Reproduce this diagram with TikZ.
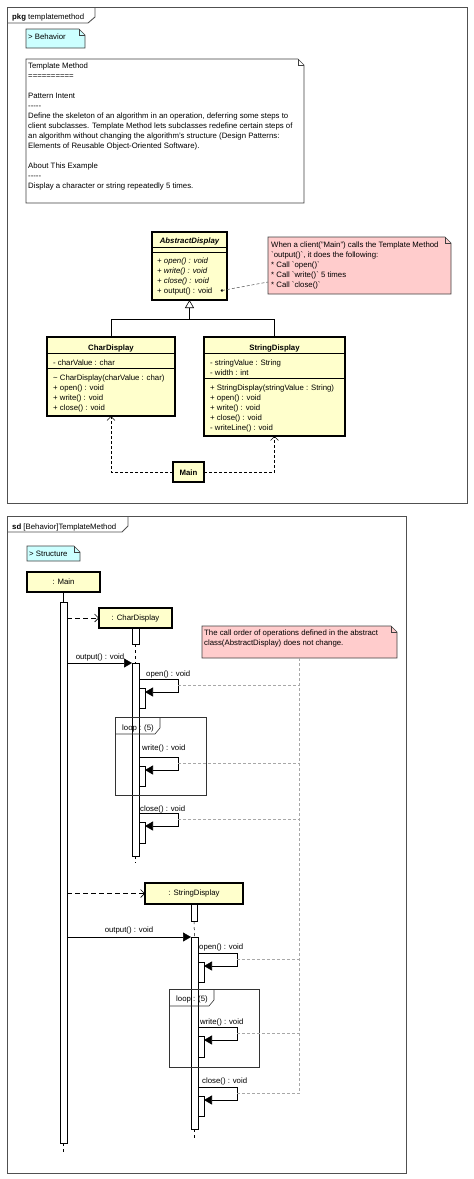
\documentclass[tikz,border=0pt]{standalone}
\usepackage{fontspec}
\setmainfont{Liberation Sans}
\usetikzlibrary{arrows.meta}
\definecolor{clsfill}{HTML}{FFFFCC}
\definecolor{pinkfill}{HTML}{FFCCCC}
\definecolor{cyanfill}{HTML}{CCFFFF}
\definecolor{framecol}{HTML}{505050}
\definecolor{linkgray}{HTML}{A8A8A8}
\newcommand\firstln{\rule{0pt}{8pt}}
\newcommand\fivedash{-{}-{}-{}-{}-}
\newcommand\mkbox[6][]{\node[#1,anchor=north west,inner sep=0pt,outer sep=0pt,minimum width={#5-#3},minimum height={#6-#4}] (#2) at (#3,#4) {};}
\newcommand\mknote[6]{%
  \mkbox{#1}{#2}{#3}{#4}{#5}%
  \filldraw[notestyle,fill=#6] (#1.north west) -- ([xshift=-6pt]#1.north east) -- ([yshift=-6pt]#1.north east) -- (#1.south east) -- (#1.south west) -- cycle;
  \draw[notestyle] ([xshift=-6pt]#1.north east) |- ([yshift=-6pt]#1.north east);}
\tikzset{
  notestyle/.style={draw=black!75,line width=0.6pt},
  frame/.style={draw=framecol,line width=0.9pt},
  cls/.style={draw=black,line width=1.3pt,fill=clsfill},
  actbar/.style={draw=black,line width=0.6pt,fill=white},
  frag/.style={draw=black!80,line width=0.6pt},
  txt/.style={inner sep=0pt,anchor=base west},
  ctxt/.style={inner sep=0pt,anchor=base},
  ml/.style={inner sep=0pt,anchor=north west,align=left},
  call/.style={line width=0.6pt,-{Triangle[length=8pt,width=9pt]}},
  create/.style={line width=0.6pt,dash pattern=on 5pt off 3pt,-{Straight Barb[length=4pt,width=8pt]}},
  dep/.style={line width=0.6pt,dash pattern=on 3pt off 2pt,-{Straight Barb[length=4pt,width=8pt]}},
  life/.style={line width=0.5pt,dash pattern=on 3pt off 3pt},
  link/.style={draw=linkgray,line width=0.5pt,dash pattern=on 3pt off 2pt},
  notelink/.style={draw=black!70,line width=0.5pt,dash pattern=on 3pt off 2pt},
}
\begin{document}
\begin{tikzpicture}[x=1pt,y=-1pt,font=\fontsize{7.8}{10}\selectfont]
\useasboundingbox (0,0) rectangle (474,1179);
% ================= package frame =================
\mkbox[frame]{pkgframe}{7}{7}{467}{503}
\draw[frame] (pkgframe.north west |- 0,23) -- (88,23) -- (95,17) -- (95,7);
\node[txt] (pkglab) at (12,19) {\textbf{pkg} templatemethod};
\mknote{behav}{26}{29}{85}{48}{cyanfill}
\node[txt] (behavT) at (28,39) {> Behavior};
\mknote{intent}{26}{59}{304}{203}{white}
\node[ml] (intentT) at (28,60) {\firstln Template Method\\==========\\ \mbox{}\\Pattern Intent\\\fivedash\\Define the skeleton of an algorithm in an operation, deferring some steps to\\client subclasses. Template Method lets subclasses redefine certain steps of\\an algorithm without changing the algorithm's structure (Design Patterns:\\Elements of Reusable Object-Oriented Software).\\ \mbox{}\\About This Example\\\fivedash\\Display a character or string repeatedly 5 times.};
% AbstractDisplay
\mkbox[cls]{abs}{152}{232}{227}{300}
\draw[line width=0.6pt] (abs.west |- 0,247) -- (abs.east |- 0,247);
\draw[line width=0.6pt] (abs.west |- 0,252) -- (abs.east |- 0,252);
\node[ctxt] (absT) at (189.5,243) {\bfseries\itshape AbstractDisplay};
\node[ml] (absM) at (157,255) {\firstln\itshape + open() : void\\\itshape + write() : void\\\itshape + close() : void\\+ output() : void};
% note
\mknote{nclient}{268}{237}{451}{294}{pinkfill}
\node[ml] (nclientT) at (271,239) {\firstln When a client("Main") calls the Template Method\\\textasciigrave output()\textasciigrave, it does the following:\\* Call \textasciigrave open()\textasciigrave\\* Call \textasciigrave write()\textasciigrave\ 5 times\\* Call \textasciigrave close()\textasciigrave};
\coordinate (outdot) at (222,290.5);
\fill (outdot) circle (1.4);
\draw[notelink] (outdot) -- (nclient.west |- 0,282);
% CharDisplay
\mkbox[cls]{chard}{47}{337}{175}{416}
\draw[line width=0.6pt] (chard.west |- 0,353) -- (chard.east |- 0,353);
\draw[line width=0.6pt] (chard.west |- 0,368) -- (chard.east |- 0,368);
\node[ctxt] (chardT) at (111,350) {\bfseries CharDisplay};
\node[txt] (chardA) at (53,365) {- charValue : char};
\node[ml] (chardM) at (53,372) {\firstln \textasciitilde\ CharDisplay(charValue : char)\\+ open() : void\\+ write() : void\\+ close() : void};
% StringDisplay
\mkbox[cls]{strd}{204}{337}{345}{436}
\draw[line width=0.6pt] (strd.west |- 0,353) -- (strd.east |- 0,353);
\draw[line width=0.6pt] (strd.west |- 0,378) -- (strd.east |- 0,378);
\node[ctxt] (strdT) at (274.5,350) {\bfseries StringDisplay};
\node[ml] (strdA) at (210,357) {\firstln - stringValue : String\\- width : int};
\node[ml] (strdM) at (210,382) {\firstln + StringDisplay(stringValue : String)\\+ open() : void\\+ write() : void\\+ close() : void\\- writeLine() : void};
% Main
\mkbox[cls]{mainc}{173}{462}{204}{482}
\node[ctxt] (maincT) at (188.5,475) {\bfseries Main};
% generalization
\coordinate (join) at (189.5,319);
\draw[line width=0.6pt] (chard.north) |- (join);
\draw[line width=0.6pt] (strd.north) |- (join);
\draw[line width=0.6pt,-{Triangle[open,length=8pt,width=9pt]}] (join) -- (abs.south);
% dependencies
\draw[dep] (mainc.west) -| (chard.south);
\draw[dep] (mainc.east) -| (strd.south);
% ================= sequence frame =================
\mkbox[frame]{sdframe}{7}{516}{406}{1173}
\draw[frame] (sdframe.north west |- 0,532) -- (122,532) -- (128,526) -- (128,516);
\node[txt] (sdlab) at (12,529) {\textbf{sd} [Behavior]TemplateMethod};
\mknote{struct}{27}{546}{80}{561}{cyanfill}
\node[txt] (structT) at (29,556) {> Structure};
\mknote{norder}{202}{626}{397}{658}{pinkfill}
\node[ml] (norderT) at (204,627) {\firstln The call order of operations defined in the abstract\\class(AbstractDisplay) does not change.};
% lifeline heads
\mkbox[cls]{lmain}{27}{572}{100}{592}
\node[ctxt] (lmainT) at (63.5,584.5) {: Main};
\mkbox[cls]{lchar}{99}{608}{172}{628}
\node[ctxt] (lcharT) at (135.5,620.5) {: CharDisplay};
\mkbox[cls]{lstr}{145}{883}{243}{904}
\node[ctxt] (lstrT) at (194,895.5) {: StringDisplay};
% main lifeline
\mkbox[actbar]{amain}{60}{602}{67}{1143}
\draw[line width=0.5pt] (lmain.south) -- (amain.north);
\coordinate (mainend) at (63.5,1153);
\draw[life] (amain.south) -- (mainend);
% char lifeline
\mkbox[actbar]{cbar0}{132}{628}{139}{644}
\mkbox[actbar]{cact}{132}{663}{139}{856}
\draw[life] (cbar0.south) -- (cact.north);
\coordinate (charend) at (135.5,863);
\draw[life] (cact.south) -- (charend);
\mkbox[actbar]{copen}{139}{688}{145}{708}
\mkbox[actbar]{cwrite}{139}{766}{145}{786}
\mkbox[actbar]{cclose}{139}{822}{145}{843}
% string lifeline
\mkbox[actbar]{sbar0}{191}{904}{197}{921}
\mkbox[actbar]{sact}{191}{937}{198}{1129}
\draw[life] (sbar0.south) -- (sact.north);
\coordinate (strend) at (194.5,1138);
\draw[life] (sact.south) -- (strend);
\mkbox[actbar]{sopen}{198}{962}{204}{982}
\mkbox[actbar]{swrite}{198}{1036}{204}{1057}
\mkbox[actbar]{sclose}{198}{1096}{204}{1116}
% loop fragments
\mkbox[frag]{cloop}{115}{717}{206}{795}
\draw[frag] (cloop.west |- 0,734) -- (155,734) -- (160,728) -- (160,717);
\node[txt] (cloopT) at (122,730) {loop : (5)};
\mkbox[frag]{sloop}{169}{989}{259}{1067}
\draw[frag] (sloop.west |- 0,1006) -- (209,1006) -- (214,1000) -- (214,989);
\node[txt] (sloopT) at (176,1001) {loop : (5)};
% create messages
\draw[create] (amain.east |- lchar.west) -- (lchar.west);
\draw[create] (amain.east |- lstr.west) -- (lstr.west);
% output calls
\draw[call] (amain.east |- cact.north) -- (cact.north west);
\node[ctxt] (coutT) at (100,659) {output() : void};
\draw[call] (amain.east |- sact.north) -- (sact.north west);
\node[ctxt] (soutT) at (129,932) {output() : void};
% self calls char
\draw[call] (cact.east |- 0,679) -- (178,679) -- (178,692) -- (copen.east |- 0,692);
\node[txt] (copenT) at (146,676) {open() : void};
\draw[call] (cact.east |- 0,757) -- (178,757) -- (178,770) -- (cwrite.east |- 0,770);
\node[txt] (cwriteT) at (142,750) {write() : void};
\draw[call] (cact.east |- 0,813) -- (178,813) -- (178,826) -- (cclose.east |- 0,826);
\node[txt] (ccloseT) at (140,811) {close() : void};
% self calls string
\draw[call] (sact.east |- 0,953) -- (237,953) -- (237,966) -- (sopen.east |- 0,966);
\node[txt] (sopenT) at (199,949) {open() : void};
\draw[call] (sact.east |- 0,1027) -- (237,1027) -- (237,1040) -- (swrite.east |- 0,1040);
\node[txt] (swriteT) at (200,1024) {write() : void};
\draw[call] (sact.east |- 0,1087) -- (237,1087) -- (237,1100) -- (sclose.east |- 0,1100);
\node[txt] (scloseT) at (202,1083) {close() : void};
% note links
\coordinate (linkbot) at (299.5,1093.5);
\draw[link] (norder.south) -- (linkbot);
\draw[link] (178,685.5) -- (norder.south |- 0,685.5);
\draw[link] (178,763.5) -- (norder.south |- 0,763.5);
\draw[link] (178,819.5) -- (norder.south |- 0,819.5);
\draw[link] (237,959.5) -- (norder.south |- 0,959.5);
\draw[link] (237,1033.5) -- (norder.south |- 0,1033.5);
\draw[link] (237,1093.5) -- (linkbot);
\end{tikzpicture}
\end{document}
